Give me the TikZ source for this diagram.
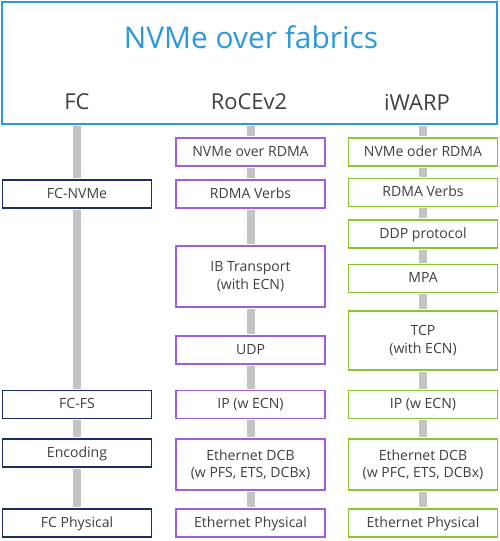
\documentclass[tikz,border=0pt]{standalone}
\usepackage{fontspec}
\setmainfont{Open Sans}
\usepackage{tikz}

\definecolor{fabblue}{RGB}{45,152,218}
\definecolor{fcnavy}{RGB}{30,45,95}
\definecolor{ropurple}{RGB}{158,95,220}
\definecolor{iwgreen}{RGB}{138,198,45}
\definecolor{txtgray}{RGB}{64,64,64}
\definecolor{bargray}{RGB}{196,196,196}

\begin{document}
\begin{tikzpicture}[x=0.02cm,y=-0.02cm,
    layer/.style={draw,line width=1.1pt,fill=white,minimum width=2.98cm,
      minimum height=0.56cm,inner sep=1pt,text=txtgray,align=center,
      text height=6.2pt,text depth=1.4pt,
      font=\fontsize{8}{9.8}\selectfont},
    tall/.style={text height=,text depth=},
    fcbox/.style={layer,draw=fcnavy},
    robox/.style={layer,draw=ropurple},
    iwbox/.style={layer,draw=iwgreen},
    bar/.style={draw=bargray,line width=0.16cm,shorten <=0.55pt,shorten >=0.55pt},
    head/.style={text=txtgray,font=\fontsize{12.5}{14}\selectfont}]
        \useasboundingbox (0,0) rectangle (500,541);
        % frame with the three fabrics
        \node[draw=fabblue,line width=1.1pt,minimum width=9.9cm,minimum height=2.44cm,inner sep=0](fab)at(249.5, 63){};
        \node[text=fabblue,font=\fontsize{17}{20}\selectfont](title)at(251, 37){NVMe over fabrics};
        \node[head](fc)at(77, 102){FC};
        \node[head](roce)at(249, 102){RoCEv2};
        \node[head](iwarp)at(417, 102){iWARP};
        % FC
        \node[fcbox](fcnvme)at(77, 194){FC-NVMe};
        \node[fcbox](fcfs)at(77, 404.5){FC-FS};
        \node[fcbox](fcenc)at(77, 453){Encoding};
        \node[fcbox](fcphy)at(77, 523){FC Physical};
        % RoCEv2
        \node[robox](ronvme)at(250.5, 152){NVMe over RDMA};
        \node[robox](roverbs)at(250.5, 194){RDMA Verbs};
        \node[robox,tall,minimum height=1.22cm](roib)at(250.5, 276.5){IB Transport\\(with ECN)};
        \node[robox](roudp)at(250.5, 350){UDP};
        \node[robox](roip)at(250.5, 404.5){IP (w ECN)};
        \node[robox,tall,minimum height=1.02cm](rodcb)at(250.5, 464.5){Ethernet DCB\\(w PFS, ETS, DCBx)};
        \node[robox](rophy)at(250.5, 523){Ethernet Physical};
        % iWARP
        \node[iwbox](iwnvme)at(423, 152){NVMe oder RDMA};
        \node[iwbox](iwverbs)at(423, 192.5){RDMA Verbs};
        \node[iwbox](iwddp)at(423, 234){DDP protocol};
        \node[iwbox](iwmpa)at(423, 278.5){MPA};
        \node[iwbox,tall,minimum height=1.18cm](iwtcp)at(423, 340.5){TCP\\(with ECN)};
        \node[iwbox](iwip)at(423, 404.5){IP (w ECN)};
        \node[iwbox,tall,minimum height=1.02cm](iwdcb)at(423, 464.5){Ethernet DCB\\(w PFC, ETS, DCBx)};
        \node[iwbox](iwphy)at(423, 523){Ethernet Physical};
        % stacks
        \draw[bar](fcnvme.north |- fab.south) -- (fcnvme.north);
        \draw[bar](fcnvme) -- (fcfs);
        \draw[bar](fcfs) -- (fcenc);
        \draw[bar](fcenc) -- (fcphy);
        \draw[bar](ronvme.north |- fab.south) -- (ronvme.north);
        \draw[bar](ronvme) -- (roverbs);
        \draw[bar](roverbs) -- (roib);
        \draw[bar](roib) -- (roudp);
        \draw[bar](roudp) -- (roip);
        \draw[bar](roip) -- (rodcb);
        \draw[bar](rodcb) -- (rophy);
        \draw[bar](iwnvme.north |- fab.south) -- (iwnvme.north);
        \draw[bar](iwnvme) -- (iwverbs);
        \draw[bar](iwverbs) -- (iwddp);
        \draw[bar](iwddp) -- (iwmpa);
        \draw[bar](iwmpa) -- (iwtcp);
        \draw[bar](iwtcp) -- (iwip);
        \draw[bar](iwip) -- (iwdcb);
        \draw[bar](iwdcb) -- (iwphy);
    \end{tikzpicture}
\end{document}
